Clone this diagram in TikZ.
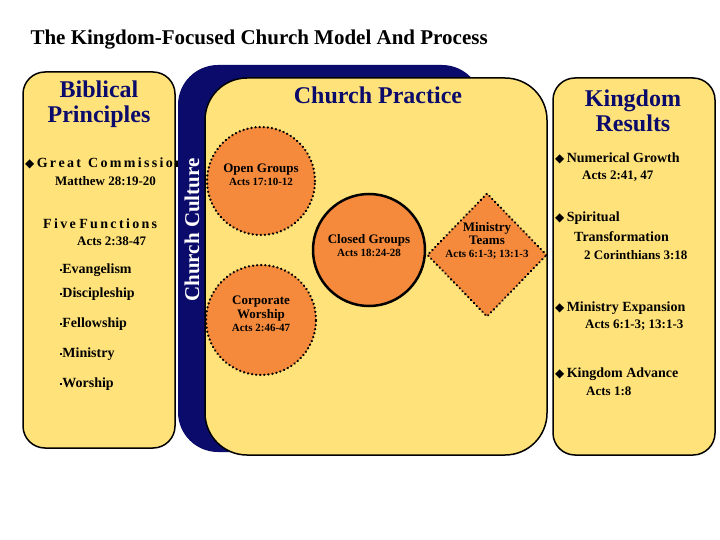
\documentclass[tikz,border=0pt]{standalone}
\usepackage{fontspec}
\setmainfont{Liberation Serif}
\newfontfamily\dejavu{DejaVu Sans}
\usetikzlibrary{shapes.geometric}
\definecolor{pyel}{HTML}{FFE27A}
\definecolor{porange}{HTML}{F58A3C}
\definecolor{pnavy}{HTML}{0B0B6B}
\newcommand{\dmd}{{\dejavu\fontsize{12}{12}\selectfont ◆}}
\newcommand{\sqb}{\rule[2pt]{2.2pt}{2.2pt}}
\tikzset{
 panel/.style={draw=black,line width=1.5pt,fill=pyel},
 head/.style={font=\bfseries\fontsize{24}{25}\selectfont,text=pnavy,align=center},
 item/.style={anchor=west,font=\bfseries\fontsize{14}{15}\selectfont,inner sep=0},
 ref/.style={anchor=west,font=\bfseries\fontsize{12}{13}\selectfont,inner sep=0},
 blob/.style={fill=porange,draw=black,line width=2.5pt,dash pattern=on 0.1pt off 4pt,line cap=round,align=center,font=\bfseries\fontsize{12}{13}\selectfont,inner sep=0},
}
\begin{document}
\begin{tikzpicture}[x=1pt,y=-1pt]
\useasboundingbox[fill=white] (0,0) rectangle (720,540);
\node[anchor=west,font=\bfseries\fontsize{21}{22}\selectfont] (title) at (27,40) {The Kingdom-Focused Church Model And Process};
% left panel
\draw[panel,rounded corners=22pt] (23,72) rectangle (175,448);
\node[head] (bp) at (99,104) {Biblical\\Principles};
\node[item] (gc) at (25,163) {\dmd\,G\,r\,e\,a\,t\ \ C\,o\,m\,m\,i\,s\,s\,i\,o\,n};
\node[ref,font=\bfseries\fontsize{13}{14}\selectfont] (mt) at (55,181) {Matthew 28:19-20};
\node[item] (ff) at (43,224) {F\,i\,v\,e\ F\,u\,n\,c\,t\,i\,o\,n\,s};
\node[ref,font=\bfseries\fontsize{13}{14}\selectfont] (a2) at (77,241) {Acts 2:38-47};
\node[item] (e1) at (60,270) {\sqb Evangelism};
\node[item] (e2) at (60,294) {\sqb Discipleship};
\node[item] (e3) at (60,324) {\sqb Fellowship};
\node[item] (e4) at (60,354) {\sqb Ministry};
\node[item] (e5) at (60,384) {\sqb Worship};
% navy culture band
\fill[pnavy,rounded corners=40pt] (178,65) rectangle (482,452);
\node[rotate=90,text=white,font=\bfseries\fontsize{21}{22}\selectfont] (cc) at (192,230) {Church Culture};
% center panel
\draw[panel,rounded corners=42pt] (205,78) rectangle (547,455);
\node[head] (cp) at (378,95) {Church Practice};
\node[blob,circle,minimum size=108pt] (og) at (261,181) {};
\node[font=\bfseries\fontsize{13}{14}\selectfont,align=center] (ogt) at (261,175) {Open Groups\\[-1pt]{\fontsize{11}{12}\selectfont Acts 17:10-12}};
\node[blob,circle,minimum size=110pt] (cw) at (261,320) {};
\node[font=\bfseries\fontsize{13}{14}\selectfont,align=center] (cwt) at (261,314) {Corporate\\Worship\\[-1pt]{\fontsize{11}{12}\selectfont Acts 2:46-47}};
\node[circle,fill=porange,draw=black,line width=2.5pt,minimum size=112pt] (cg) at (369,250) {};
\node[font=\bfseries\fontsize{13}{14}\selectfont,align=center] (cgt) at (369,246) {Closed Groups\\[-1pt]{\fontsize{11}{12}\selectfont Acts 18:24-28}};
\node[blob,diamond,minimum width=120pt,minimum height=124pt] (mtm) at (487,255) {};
\node[font=\bfseries\fontsize{13}{14}\selectfont,align=center] (mtt) at (487,241) {Ministry\\[-1pt]Teams\\[-1pt]{\fontsize{11}{12}\selectfont Acts 6:1-3; 13:1-3}};
% right panel
\draw[panel,rounded corners=22pt] (553,78) rectangle (715,455);
\node[head] (kr) at (633,111) {Kingdom\\Results};
\node[item] (r1) at (555,158) {\dmd\,Numerical Growth};
\node[ref,font=\bfseries\fontsize{13}{14}\selectfont] (r1a) at (582,176) {Acts 2:41, 47};
\node[item] (r2) at (555,218) {\dmd\,Spiritual};
\node[item] (r2b) at (574,237) {Transformation};
\node[ref,font=\bfseries\fontsize{13}{14}\selectfont] (r2a) at (584,255) {2 Corinthians 3:18};
\node[item] (r3) at (555,308) {\dmd\,Ministry Expansion};
\node[ref,font=\bfseries\fontsize{13}{14}\selectfont] (r3a) at (585,325) {Acts 6:1-3; 13:1-3};
\node[item] (r4) at (555,374) {\dmd\,Kingdom Advance};
\node[ref,font=\bfseries\fontsize{13}{14}\selectfont] (r4a) at (586,391) {Acts 1:8};
\end{tikzpicture}
\end{document}
